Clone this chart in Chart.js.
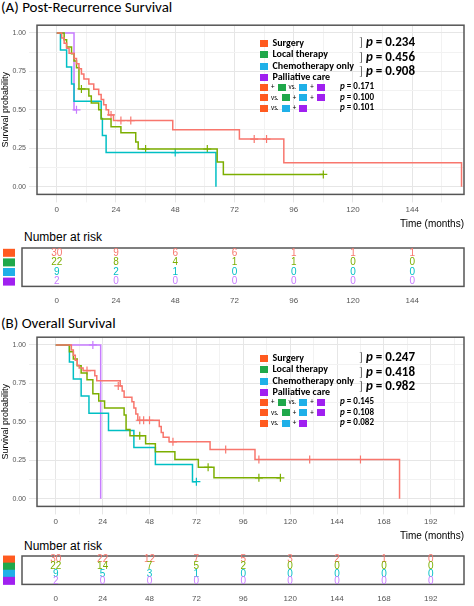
<!DOCTYPE html>
<html><head><meta charset="utf-8">
<script src="https://cdn.jsdelivr.net/npm/chart.js@4"></script>
<style>
body{margin:0;width:474px;height:606px;position:relative;background:#fff;font-family:Calibri,"Open Sans",Arial,sans-serif;overflow:hidden}
canvas{position:absolute;left:0}
.t{position:absolute;white-space:nowrap;color:#000}
.sq{display:inline-block;width:8px;height:7px;vertical-align:middle}
</style></head><body>
<div class="t" style="left:1px;top:-2px;font-size:15px">(A) Post-Recurrence Survival</div>
<div class="t" style="left:1px;top:314px;font-size:15px">(B) Overall Survival</div>
<div class="t" style="left:24px;top:230px;font-size:12px;font-family:Arial">Number at risk</div>
<div class="t" style="left:24px;top:539px;font-size:12px;font-family:Arial">Number at risk</div>
<canvas id="kmA" width="474" height="212" style="top:18px"></canvas>
<canvas id="riskA" width="474" height="62" style="top:246px"></canvas>
<canvas id="kmB" width="474" height="212" style="top:330px"></canvas>
<canvas id="riskB" width="474" height="52" style="top:554px"></canvas>
<script>
const groups = ['Surgery', 'Local therapy', 'Chemotherapy only', 'Palliative care'];
const lineColors = ['#F8766D', '#7CAE00', '#00BFC4', '#C77CFF'];
const keyColors = ['#FF5A1F', '#1FA84A', '#1FB0E8', '#A020F0'];

// panel A: post-recurrence survival (time in months, survival after each event; last point = end of follow-up)
const aSurgT = [0, 2, 3, 4, 5, 7, 8, 9, 10, 11, 13, 15, 17, 18, 19, 20, 21, 23, 47, 74, 92, 164];
const aSurgS = [1, 0.967, 0.933, 0.9, 0.867, 0.833, 0.8, 0.767, 0.733, 0.7, 0.667, 0.633, 0.6, 0.567, 0.533, 0.5, 0.467, 0.43, 0.37, 0.31, 0.155, 0];
const aSurgCensT = [22, 26, 30, 80, 85];
const aSurgCensS = [0.467, 0.43, 0.43, 0.31, 0.31];
const aLocT = [0, 3, 4, 6, 7, 8, 9, 13, 14, 17, 18, 22, 26, 32, 33, 65, 67.5, 108];
const aLocS = [1, 0.955, 0.909, 0.864, 0.818, 0.773, 0.636, 0.59, 0.545, 0.5, 0.44, 0.39, 0.35, 0.29, 0.245, 0.16, 0.08, 0.08];
const aLocCensT = [10, 36, 61, 108];
const aLocCensS = [0.636, 0.245, 0.245, 0.08];
const aChemT = [0, 1.5, 4, 6, 7, 18, 18.5, 20, 64.5];
const aChemS = [1, 0.889, 0.778, 0.667, 0.556, 0.444, 0.333, 0.222, 0];
const aChemCensT = [48];
const aChemCensS = [0.222];
const aPalT = [0, 7, 8];
const aPalS = [1, 0.5, 0.5];
const aPalCensT = [8];
const aPalCensS = [0.5];
const aTicks = [0, 24, 48, 72, 96, 120, 144];
const aRisk = [[30, 9, 6, 6, 1, 1, 1], [22, 8, 4, 1, 1, 0, 0], [9, 2, 1, 0, 0, 0, 0], [2, 0, 0, 0, 0, 0, 0]];

// panel B: overall survival
const bSurgT = [0, 8, 9, 10, 11, 12, 14, 20, 21, 33, 34, 35, 39, 40, 41, 42, 53, 54, 55, 58, 79, 102, 176];
const bSurgS = [1, 0.967, 0.933, 0.9, 0.867, 0.85, 0.833, 0.8, 0.767, 0.733, 0.7, 0.66, 0.63, 0.59, 0.55, 0.51, 0.47, 0.43, 0.4, 0.37, 0.32, 0.255, 0];
const bSurgCensT = [16, 32, 43, 45, 48, 60, 87, 104, 130, 156];
const bSurgCensS = [0.833, 0.733, 0.51, 0.51, 0.51, 0.37, 0.32, 0.255, 0.255, 0.255];
const bLocT = [0, 7, 9, 11, 13, 16, 19, 22, 25, 35, 36, 38, 46, 51, 61, 73, 81, 115];
const bLocS = [1, 0.955, 0.909, 0.864, 0.818, 0.773, 0.682, 0.636, 0.59, 0.545, 0.45, 0.41, 0.357, 0.306, 0.255, 0.204, 0.136, 0.136];
const bLocCensT = [43, 78, 104, 115];
const bLocCensS = [0.41, 0.204, 0.136, 0.136];
const bChemT = [0, 7, 9, 13, 17, 27, 40, 51, 70, 72];
const bChemS = [1, 0.889, 0.778, 0.667, 0.556, 0.444, 0.333, 0.222, 0.111, 0.111];
const bChemCensT = [72];
const bChemCensS = [0.111];
const bPalT = [0, 23];
const bPalS = [1, 0];
const bPalCensT = [19];
const bPalCensS = [1];
const bTicks = [0, 24, 48, 72, 96, 120, 144, 168, 192];
const bRisk = [[30, 22, 12, 7, 5, 3, 2, 1, 0], [22, 14, 7, 5, 2, 0, 0, 0, 0], [9, 5, 3, 1, 0, 0, 0, 0, 0], [2, 0, 0, 0, 0, 0, 0, 0, 0]];

function pts(t, s) { return t.map((x, i) => ({x: x, y: s[i]})); }

const frame = {
  id: 'frame',
  beforeDatasetsDraw(c) {
    const a = c.chartArea, ctx = c.ctx;
    ctx.save(); ctx.strokeStyle = '#555'; ctx.lineWidth = 1.5;
    ctx.strokeRect(a.left, a.top, a.right - a.left, a.bottom - a.top);
    ctx.restore();
  }
};

function km(id, lines, cens, xmin, xmax, ticks) {
  const ds = [];
  lines.forEach((l, i) => ds.push({type: 'line', data: pts(l[0], l[1]), borderColor: lineColors[i], borderWidth: 1.5, stepped: true, pointRadius: 0, fill: false}));
  cens.forEach((l, i) => ds.push({type: 'scatter', data: pts(l[0], l[1]), borderColor: lineColors[i], pointStyle: 'cross', pointRadius: 4, borderWidth: 1.2}));
  new Chart(document.getElementById(id), {
    data: {datasets: ds},
    options: {
      animation: false, responsive: false,
      layout: {padding: {left: 0, right: 10, top: 2}},
      plugins: {legend: {display: false}, tooltip: {enabled: false}},
      scales: {
        x: {type: 'linear', min: xmin, max: xmax, afterBuildTicks: ax => { ax.ticks = []; for (let v = 0; v <= xmax; v += 12) ax.ticks.push({value: v}); },
          grid: {color: ctx => (ctx.tick && ctx.tick.value % 24 === 0) ? '#e6e6e6' : '#f2f2f2'},
          border: {display: false},
          ticks: {color: '#555', font: {size: 8, family: 'Arial'}, callback: v => ticks.includes(v) ? v : ''},
          title: {display: true, text: 'Time (months)', align: 'end', color: '#000', font: {size: 10, family: 'Arial'}, padding: 0}},
        y: {min: -0.05, max: 1.05, afterFit: ax => { ax.width = 37; },
          afterBuildTicks: ax => { ax.ticks = []; for (let v = 0; v <= 1.0001; v += 0.125) ax.ticks.push({value: v}); },
          grid: {color: ctx => (ctx.tick && Math.round(ctx.tick.value * 1000) % 250 === 0) ? '#e6e6e6' : '#f2f2f2'},
          border: {display: false},
          ticks: {color: '#555', font: {size: 7, family: 'Arial'}, callback: v => Math.round(v * 1000) % 250 === 0 ? v.toFixed(2) : ''},
          title: {display: true, text: 'Survival probability', color: '#000', font: {size: 9, family: 'Arial'}, padding: 0}}
      }
    },
    plugins: [frame]
  });
}

function risk(id, table, xmin, xmax, ticks) {
  const ds = table.map((row, g) => ({data: ticks.map((t, i) => ({x: t, y: groups[g], v: row[i]})), pointRadius: 0}));
  new Chart(document.getElementById(id), {
    type: 'scatter',
    data: {datasets: ds},
    options: {
      animation: false, responsive: false,
      layout: {padding: {left: 0, right: 10, top: 2}},
      plugins: {legend: {display: false}, tooltip: {enabled: false}},
      scales: {
        x: {type: 'linear', min: xmin, max: xmax, afterBuildTicks: ax => { ax.ticks = ticks.map(v => ({value: v})); },
          grid: {display: false}, border: {display: false},
          ticks: {color: '#555', font: {size: 8, family: 'Arial'}, padding: 2}},
        y: {type: 'category', labels: groups, offset: true, afterFit: ax => { ax.width = 37; },
          grid: {display: false}, border: {display: false}, ticks: {display: false}}
      }
    },
    plugins: [{
      id: 'cells',
      afterDatasetsDraw(c) {
        const ctx = c.ctx, a = c.chartArea, xs = c.scales.x, ys = c.scales.y;
        ctx.save();
        ctx.strokeStyle = '#555'; ctx.lineWidth = 1.5;
        ctx.strokeRect(22, a.top, a.right - 22, a.bottom - a.top);
        ctx.font = '10px Arial'; ctx.textAlign = 'center'; ctx.textBaseline = 'middle';
        c.data.datasets.forEach((d, g) => {
          const y = ys.getPixelForValue(g);
          ctx.fillStyle = keyColors[g];
          ctx.fillRect(3, y - 4, 12, 8);
          ctx.fillStyle = lineColors[g];
          d.data.forEach(p => ctx.fillText(p.v, xs.getPixelForValue(p.x), y));
        });
        ctx.restore();
      }
    }]
  });
}

km('kmA', [[aSurgT, aSurgS], [aLocT, aLocS], [aChemT, aChemS], [aPalT, aPalS]],
  [[aSurgCensT, aSurgCensS], [aLocCensT, aLocCensS], [aChemCensT, aChemCensS], [aPalCensT, aPalCensS]], -8, 165, aTicks);
risk('riskA', aRisk, -8, 165, aTicks);
km('kmB', [[bSurgT, bSurgS], [bLocT, bLocS], [bChemT, bChemS], [bPalT, bPalS]],
  [[bSurgCensT, bSurgCensS], [bLocCensT, bLocCensS], [bChemCensT, bChemCensS], [bPalCensT, bPalCensS]], -9.6, 209, bTicks);
risk('riskB', bRisk, -9.6, 209, bTicks);

// legends with p-values
function legend(top, pvals, cmp) {
  let h = '';
  groups.forEach((g, i) => {
    h += `<div class="t" style="left:260px;top:${top + i * 11.3}px;font-size:10px;font-weight:bold"><span class="sq" style="background:${keyColors[i]}"></span>&nbsp; ${g}</div>`;
  });
  pvals.forEach((p, i) => {
    h += `<div class="t" style="left:359px;top:${top - 2 + i * 14.5}px;font-size:13px;font-weight:bold"><span style="font-weight:normal;color:#666">]</span> <i>p</i> = ${p}</div>`;
  });
  const rows = [[[0], '+', [1], 'vs.', [2], '+', [3]], [[0], 'vs.', [1], '+', [2], '+', [3]], [[0], 'vs.', [2], '+', [3]]];
  rows.forEach((r, i) => {
    let s = '';
    r.forEach(e => { s += Array.isArray(e) ? `<span class="sq" style="background:${keyColors[e[0]]}"></span>` : `<span style="font-size:7px;margin:0 3px">${e}</span>`; });
    h += `<div class="t" style="left:260px;top:${top + 45 + i * 10.5}px;font-size:8px">${s}</div>`;
    h += `<div class="t" style="left:340px;top:${top + 44 + i * 10.5}px;font-size:9px;font-weight:bold"><i>p</i> = ${cmp[i]}</div>`;
  });
  document.body.insertAdjacentHTML('beforeend', h);
}
legend(36, ['0.234', '0.456', '0.908'], ['0.171', '0.100', '0.101']);
legend(351, ['0.247', '0.418', '0.982'], ['0.145', '0.108', '0.082']);
</script>
</body></html>
